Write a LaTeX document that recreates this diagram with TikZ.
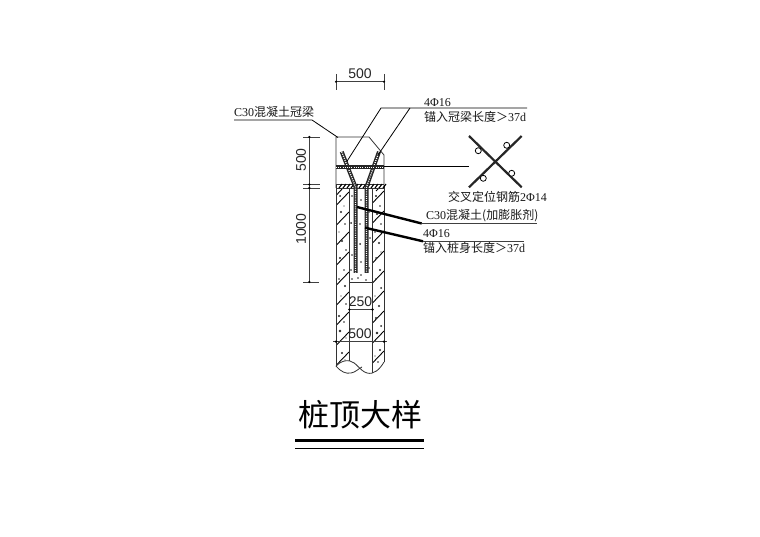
\documentclass[tikz,border=0pt]{standalone}
\usepackage{fontspec}
\setmainfont{Liberation Serif}
\setsansfont{Liberation Sans}
\newfontfamily\cjk{Noto Sans CJK SC}
\tikzset{
  outline/.style={line width=0.8pt,draw=black!80},
  thinline/.style={line width=0.8pt,draw=black},
  dimline/.style={line width=0.7pt,draw=black!75},
  hatchline/.style={line width=0.9pt,draw=black},
  leaderthick/.style={line width=2.4pt,draw=black},
  rebar/.style={line width=1.3pt,draw=white,dash pattern=on 1pt off 1.2pt,preaction={draw=black!85,line width=4pt,solid}},
  crossbar/.style={line width=2.2pt,draw=black!85},
  ringmark/.style={circle,draw=black,line width=0.8pt,fill=white,minimum size=6pt,inner sep=0pt},
  label/.style={inner sep=0pt,font=\fontsize{12}{13}\selectfont,text=black!90},
  dimtext/.style={inner sep=0pt,font=\sffamily\fontsize{14}{15}\selectfont,text=black!85},
  title/.style={inner sep=0pt,font=\cjk\fontsize{31}{32}\selectfont},
  speck/.style={fill=black!85}
}
\begin{document}
\begin{tikzpicture}[x=1pt,y=-1pt]
\useasboundingbox (0,0) rectangle (760,537);
\fill[white] (0,0) rectangle (760,537);
% hatching of pile shaft
\draw[hatchline] (336.5,195) -- (343,188);
\foreach \y in {205,225,...,365}{
  \draw[hatchline] (336.5,\y) -- (349,\y-13);
}
\foreach \y in {203,223,...,363}{
  \draw[hatchline] (372.5,\y) -- (384,\y-12);
}
\draw[hatchline] (376,191) -- (379,188);
\foreach \x/\y/\r in {340/196/1,344/206/0.7,341/212/1.2,345/224/0.8,339/232/0.7,342/241/1.1,346/250/0.8,340/258/1.2,344/270/0.8,339/279/0.9,345/286/1.1,341/296/0.7,346/304/0.8,339/316/1.2,344/322/0.8,340/331/1.3,346/338/0.7,342/353/1.1,345/360/0.7,
  376/196/1.1,380/206/0.8,377/214/1.2,381/224/0.8,375/232/0.8,379/243/1.2,381/252/0.7,376/258/1,380/270/1.2,376/279/0.8,381/288/1,375/296/0.7,379/306/1.2,376/318/1.1,381/326/1,377/333/1.3,380/350/1.1,375/356/0.7,378/362/0.9,
  352/196/0.8,361/200/0.9,369/212/0.8,351/223/1,360/224/0.8,370/238/0.8,360/244/1,352/255/0.8,361/262/0.9,369/268/0.9,351/270/0.8,361/275/0.8,358/278/0.8,352/279/0.8,366/280/0.8}{
  \fill[speck] (\x,\y) circle (\r);
}
% cap and pile outlines
\draw[outline] (336,188) -- (336,137) -- (369,137) -- (384,155) -- (384,188);
\draw[outline] (336,185) -- (336,366);
\draw[outline] (384,185) -- (384,362);
\draw[outline] (349.3,188) -- (349.3,361);
\draw[outline] (372.5,188) -- (372.5,373);
\draw[outline] (349.3,282) -- (372.5,282);
\draw[outline] (336,366) .. controls (341,361) and (346,360) .. (350,361) .. controls (356,362) and (360,371) .. (367,373) .. controls (374,375) and (380,369) .. (384,362);
\draw[outline] (336,366) .. controls (341,372) and (346,374) .. (351,373) .. controls (356,372) and (358,369) .. (362,367);
% joint band
\draw[outline] (336,184) -- (384,184);
\draw[outline] (336,188) -- (384,188);
\foreach \x in {339,343,...,383}{
  \draw[line width=1.1pt,black] (\x,188) -- (\x+3,184);
}
% rebars
\draw[rebar] (341.7,151.7) -- (355.5,187) -- (355.5,273);
\draw[rebar] (379,151.7) -- (366.5,187) -- (366.5,273);
\draw[rebar,line width=1.4pt] (336,167.3) -- (384,167.3);
% named points for leaders
\coordinate (capA) at (338,137.5);
\coordinate (capB) at (312,120);
\coordinate (capC) at (234,120);
\coordinate (upA) at (346.7,161.7);
\coordinate (upB) at (381,108);
\coordinate (upC) at (378,155);
\coordinate (upD) at (410,108);
\coordinate (upE) at (527,108);
\coordinate (tieA) at (384,166.8);
\coordinate (tieB) at (469,166.8);
\coordinate (fillA) at (357,207);
\coordinate (fillB) at (421.7,223.5);
\coordinate (fillC) at (537,223.5);
\coordinate (barA) at (365,227.7);
\coordinate (barB) at (423,241.3);
\coordinate (barC) at (524,241.3);
\draw[thinline] (capC) -- (capB) -- (capA);
\draw[thinline] (upA) -- (upB) -- (upE);
\draw[thinline] (upC) -- (upD);
\draw[thinline] (tieA) -- (tieB);
\draw[leaderthick] (fillA) -- (fillB);
\draw[dimline] (fillB) -- (fillC);
\draw[leaderthick] (barA) -- (barB);
\draw[dimline] (barB) -- (barC);
% top dimension
\coordinate (dtA) at (336,81.7);
\coordinate (dtB) at (384,81.7);
\draw[dimline] (dtA) -- (dtB);
\draw[dimline] (336,74) -- (336,90);
\draw[dimline] (384,74) -- (384,90);
\fill (dtA) circle (1.2); \fill (dtB) circle (1.2);
\node[dimtext] (t500top) at (360,73.5) {500};
% left dimensions
\coordinate (dlA) at (309.3,137);
\coordinate (dlB) at (309.3,185);
\coordinate (dlC) at (309.3,282);
\draw[dimline] (dlA) -- (dlB) -- (dlC);
\foreach \y/\a/\b in {137/303/320,184.5/303/320,188/303/320,282/303/319}{
  \draw[dimline] (\a,\y) -- (\b,\y);
  \fill (309.3,\y) circle (1.2);
}
\node[dimtext,rotate=90] (t500left) at (301,160) {500};
\node[dimtext,rotate=90] (t1000) at (301,229) {1000};
% inner dimensions
\coordinate (d250A) at (349.3,309.5);
\coordinate (d250B) at (372.5,309.5);
\coordinate (d500A) at (336,341.7);
\coordinate (d500B) at (384,341.7);
\draw[dimline] (d250A) -- (d250B);
\draw[dimline] (333,341.7) -- (387,341.7);
\foreach \c in {d250A,d250B,d500A,d500B}{\fill (\c) circle (1.3);}
\node[dimtext] (t250) at (360.5,301.5) {250};
\node[dimtext] (t500in) at (360,333.5) {500};
% cross detail
\coordinate (crA) at (469,136);
\coordinate (crB) at (521.7,187.3);
\coordinate (crC) at (521.7,136);
\coordinate (crD) at (469,187.3);
\draw[crossbar] (crA) -- (crB);
\draw[crossbar] (crC) -- (crD);
\node[ringmark] (r1) at (478.3,150.7) {};
\node[ringmark] (r2) at (506.7,145.3) {};
\node[ringmark] (r3) at (511.7,173.3) {};
\node[ringmark] (r4) at (483.3,178.3) {};
% labels
\node[label,anchor=west] (a) at (234,112) {C30{\cjk 混凝土冠梁}};
\node[label,anchor=west] (b) at (424,102.7) {4Φ16};
\node[label,anchor=west] (c) at (424,116.7) {{\cjk 锚入冠梁长度＞}37d};
\node[label,anchor=west] (d) at (448,196.7) {{\cjk 交叉定位钢筋}2Φ14};
\node[label,anchor=west] (e) at (426,216) {C30{\cjk 混凝土(加膨胀剂)}};
\node[label,anchor=west] (f) at (423,234) {4Φ16};
\node[label,anchor=west] (g) at (423,248) {{\cjk 锚入桩身长度＞}37d};
% title
\node[title] (ttl) at (360,415) {桩顶大样};
\coordinate (ulA) at (295,440);
\coordinate (ulB) at (423.5,440);
\coordinate (ulC) at (295,448.5);
\coordinate (ulD) at (423.5,448.5);
\draw[line width=3pt,black] (ulA) -- (ulB);
\draw[line width=0.8pt,black] (ulC) -- (ulD);
\end{tikzpicture}
\end{document}
